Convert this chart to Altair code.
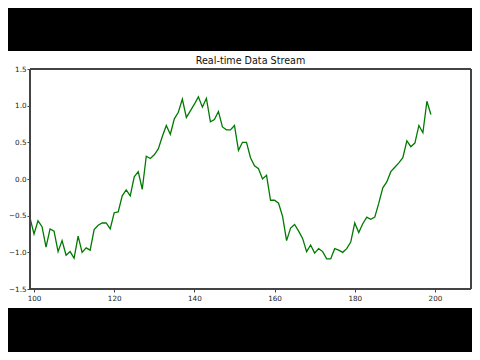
import altair as alt
import pandas as pd

x_vals = list(range(99, 200))
y_vals = [
    -0.53, -0.75, -0.57, -0.65, -0.93, -0.68, -0.71, -0.99, -0.84, -1.04,
    -0.99, -1.08, -0.78, -1.00, -0.94, -0.97, -0.69, -0.63, -0.60, -0.60,
    -0.68, -0.46, -0.45, -0.23, -0.15, -0.23, 0.03, 0.10, -0.14, 0.31,
    0.28, 0.33, 0.41, 0.58, 0.73, 0.61, 0.82, 0.91, 1.09, 0.84,
    0.93, 1.02, 1.12, 0.98, 1.10, 0.78, 0.81, 0.92, 0.71, 0.67,
    0.67, 0.73, 0.39, 0.50, 0.50, 0.29, 0.18, 0.14, 0.00, 0.05,
    -0.29, -0.29, -0.33, -0.51, -0.84, -0.67, -0.62, -0.71, -0.81, -0.99,
    -0.90, -1.01, -0.95, -0.99, -1.09, -1.09, -0.95, -0.97, -1.00, -0.95,
    -0.86, -0.60, -0.73, -0.61, -0.52, -0.55, -0.52, -0.33, -0.12, -0.04,
    0.10, 0.16, 0.22, 0.29, 0.52, 0.44, 0.49, 0.73, 0.63, 1.06,
    0.88,
]
x_ticks = [100, 120, 140, 160, 180, 200]
y_ticks = [-1.5, -1.0, -0.5, 0.0, 0.5, 1.0, 1.5]
title_text = "Real-time Data Stream"

df = pd.DataFrame({"x": x_vals, "y": y_vals})

W, H = 441, 220
PAD_L, PAD_T, PAD_R, PAD_B = 22, 61, 1, 63

# white figure band (letterboxed frame)
band = alt.Chart(df).mark_rect(color="white").encode(
    x=alt.value(-PAD_L), x2=alt.value(W + PAD_R),
    y=alt.value(-18), y2=alt.value(239),
)

line = alt.Chart(df).mark_line(color="#007a00", strokeWidth=1.3).encode(
    x=alt.X("x:Q", scale=alt.Scale(domain=[99, 209], nice=False, zero=False),
            axis=alt.Axis(values=x_ticks, format="d", title=None, grid=False,
                          domain=False, zindex=2)),
    y=alt.Y("y:Q", scale=alt.Scale(domain=[-1.5, 1.5], nice=False, zero=False),
            axis=alt.Axis(values=y_ticks, format=".1f", title=None, grid=False,
                          domain=False, zindex=2, labelPadding=1)),
)

frame = alt.Chart(df).mark_rect(fill=None, stroke="#444", strokeWidth=1).encode(
    x=alt.value(0), x2=alt.value(W), y=alt.value(0), y2=alt.value(H),
)

chart = alt.layer(band, line, frame).properties(
    width=W, height=H,
    title=alt.TitleParams(title_text, fontSize=9.6, font="DejaVu Sans",
                          fontWeight="normal", color="#111", offset=-15,
                          anchor="middle", zindex=2),
    autosize=alt.AutoSizeParams(type="none"),
    padding={"left": PAD_L, "top": PAD_T, "right": PAD_R, "bottom": PAD_B},
    background="black",
).configure_view(
    stroke=None,
).configure_axis(
    labelFont="DejaVu Sans", labelFontSize=7.2, labelColor="#222",
    tickColor="#444", tickSize=3, labelPadding=2,
)

chart.save("out.html", embed_options={"renderer": "svg", "actions": False})
